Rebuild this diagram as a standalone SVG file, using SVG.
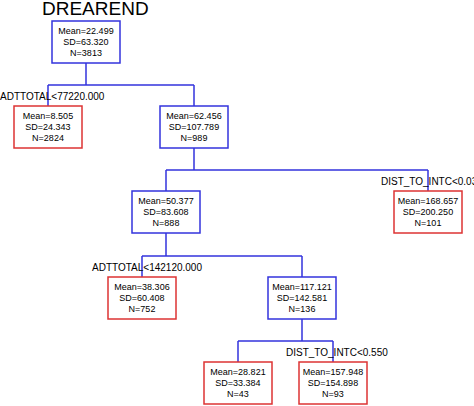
<svg xmlns="http://www.w3.org/2000/svg" width="474" height="406" viewBox="0 0 474 406">
<style>
text{font-family:"Liberation Sans",Arial,sans-serif;fill:#000}
.n text{font-size:9px;text-anchor:middle}
.lbl{font-size:10px}
.b{fill:#fff;stroke:#3333dd;stroke-width:1.5}
.r{fill:#fff;stroke:#dd3333;stroke-width:1.5}
#edges path{fill:none;stroke:#3333dd;stroke-width:1.5}
</style>
<rect width="474" height="406" fill="#fff"/>
<text x="42" y="15" style="font-size:19px">DREAREND</text>
<g id="edges">
<path d="M86 63V85M48 85H194M48 85V106M194 85V106"/>
<path d="M194 148V170M166 170H428M166 170V191M428 170V191"/>
<path d="M166 233V256M142 256H302M142 256V277M302 256V277"/>
<path d="M302 319V341M238 341H333M238 341V362M333 341V362"/>
</g>
<text class="lbl" x="0" y="100">ADTTOTAL&lt;77220.000</text>
<text class="lbl" x="381" y="185">DIST_TO_INTC&lt;0.030</text>
<text class="lbl" x="92" y="271">ADTTOTAL&lt;142120.000</text>
<text class="lbl" x="286" y="356">DIST_TO_INTC&lt;0.550</text>
<g id="n0" class="n"><rect class="b" x="52" y="21" width="68" height="42"/><text x="86" y="34">Mean=22.499</text><text x="86" y="45">SD=63.320</text><text x="86" y="56">N=3813</text></g>
<g id="n1" class="n"><rect class="r" x="14" y="106" width="68" height="42"/><text x="48" y="119">Mean=8.505</text><text x="48" y="130">SD=24.343</text><text x="48" y="141">N=2824</text></g>
<g id="n2" class="n"><rect class="b" x="160" y="106" width="68" height="42"/><text x="194" y="119">Mean=62.456</text><text x="194" y="130">SD=107.789</text><text x="194" y="141">N=989</text></g>
<g id="n3" class="n"><rect class="b" x="132" y="191" width="68" height="42"/><text x="166" y="204">Mean=50.377</text><text x="166" y="215">SD=83.608</text><text x="166" y="226">N=888</text></g>
<g id="n4" class="n"><rect class="r" x="394" y="191" width="68" height="42"/><text x="428" y="204">Mean=168.657</text><text x="428" y="215">SD=200.250</text><text x="428" y="226">N=101</text></g>
<g id="n5" class="n"><rect class="r" x="108" y="277" width="68" height="42"/><text x="142" y="290">Mean=38.306</text><text x="142" y="301">SD=60.408</text><text x="142" y="312">N=752</text></g>
<g id="n6" class="n"><rect class="b" x="268" y="277" width="68" height="42"/><text x="302" y="290">Mean=117.121</text><text x="302" y="301">SD=142.581</text><text x="302" y="312">N=136</text></g>
<g id="n7" class="n"><rect class="r" x="204" y="362" width="68" height="42"/><text x="238" y="375">Mean=28.821</text><text x="238" y="386">SD=33.384</text><text x="238" y="397">N=43</text></g>
<g id="n8" class="n"><rect class="r" x="299" y="362" width="68" height="42"/><text x="333" y="375">Mean=157.948</text><text x="333" y="386">SD=154.898</text><text x="333" y="397">N=93</text></g>
</svg>
